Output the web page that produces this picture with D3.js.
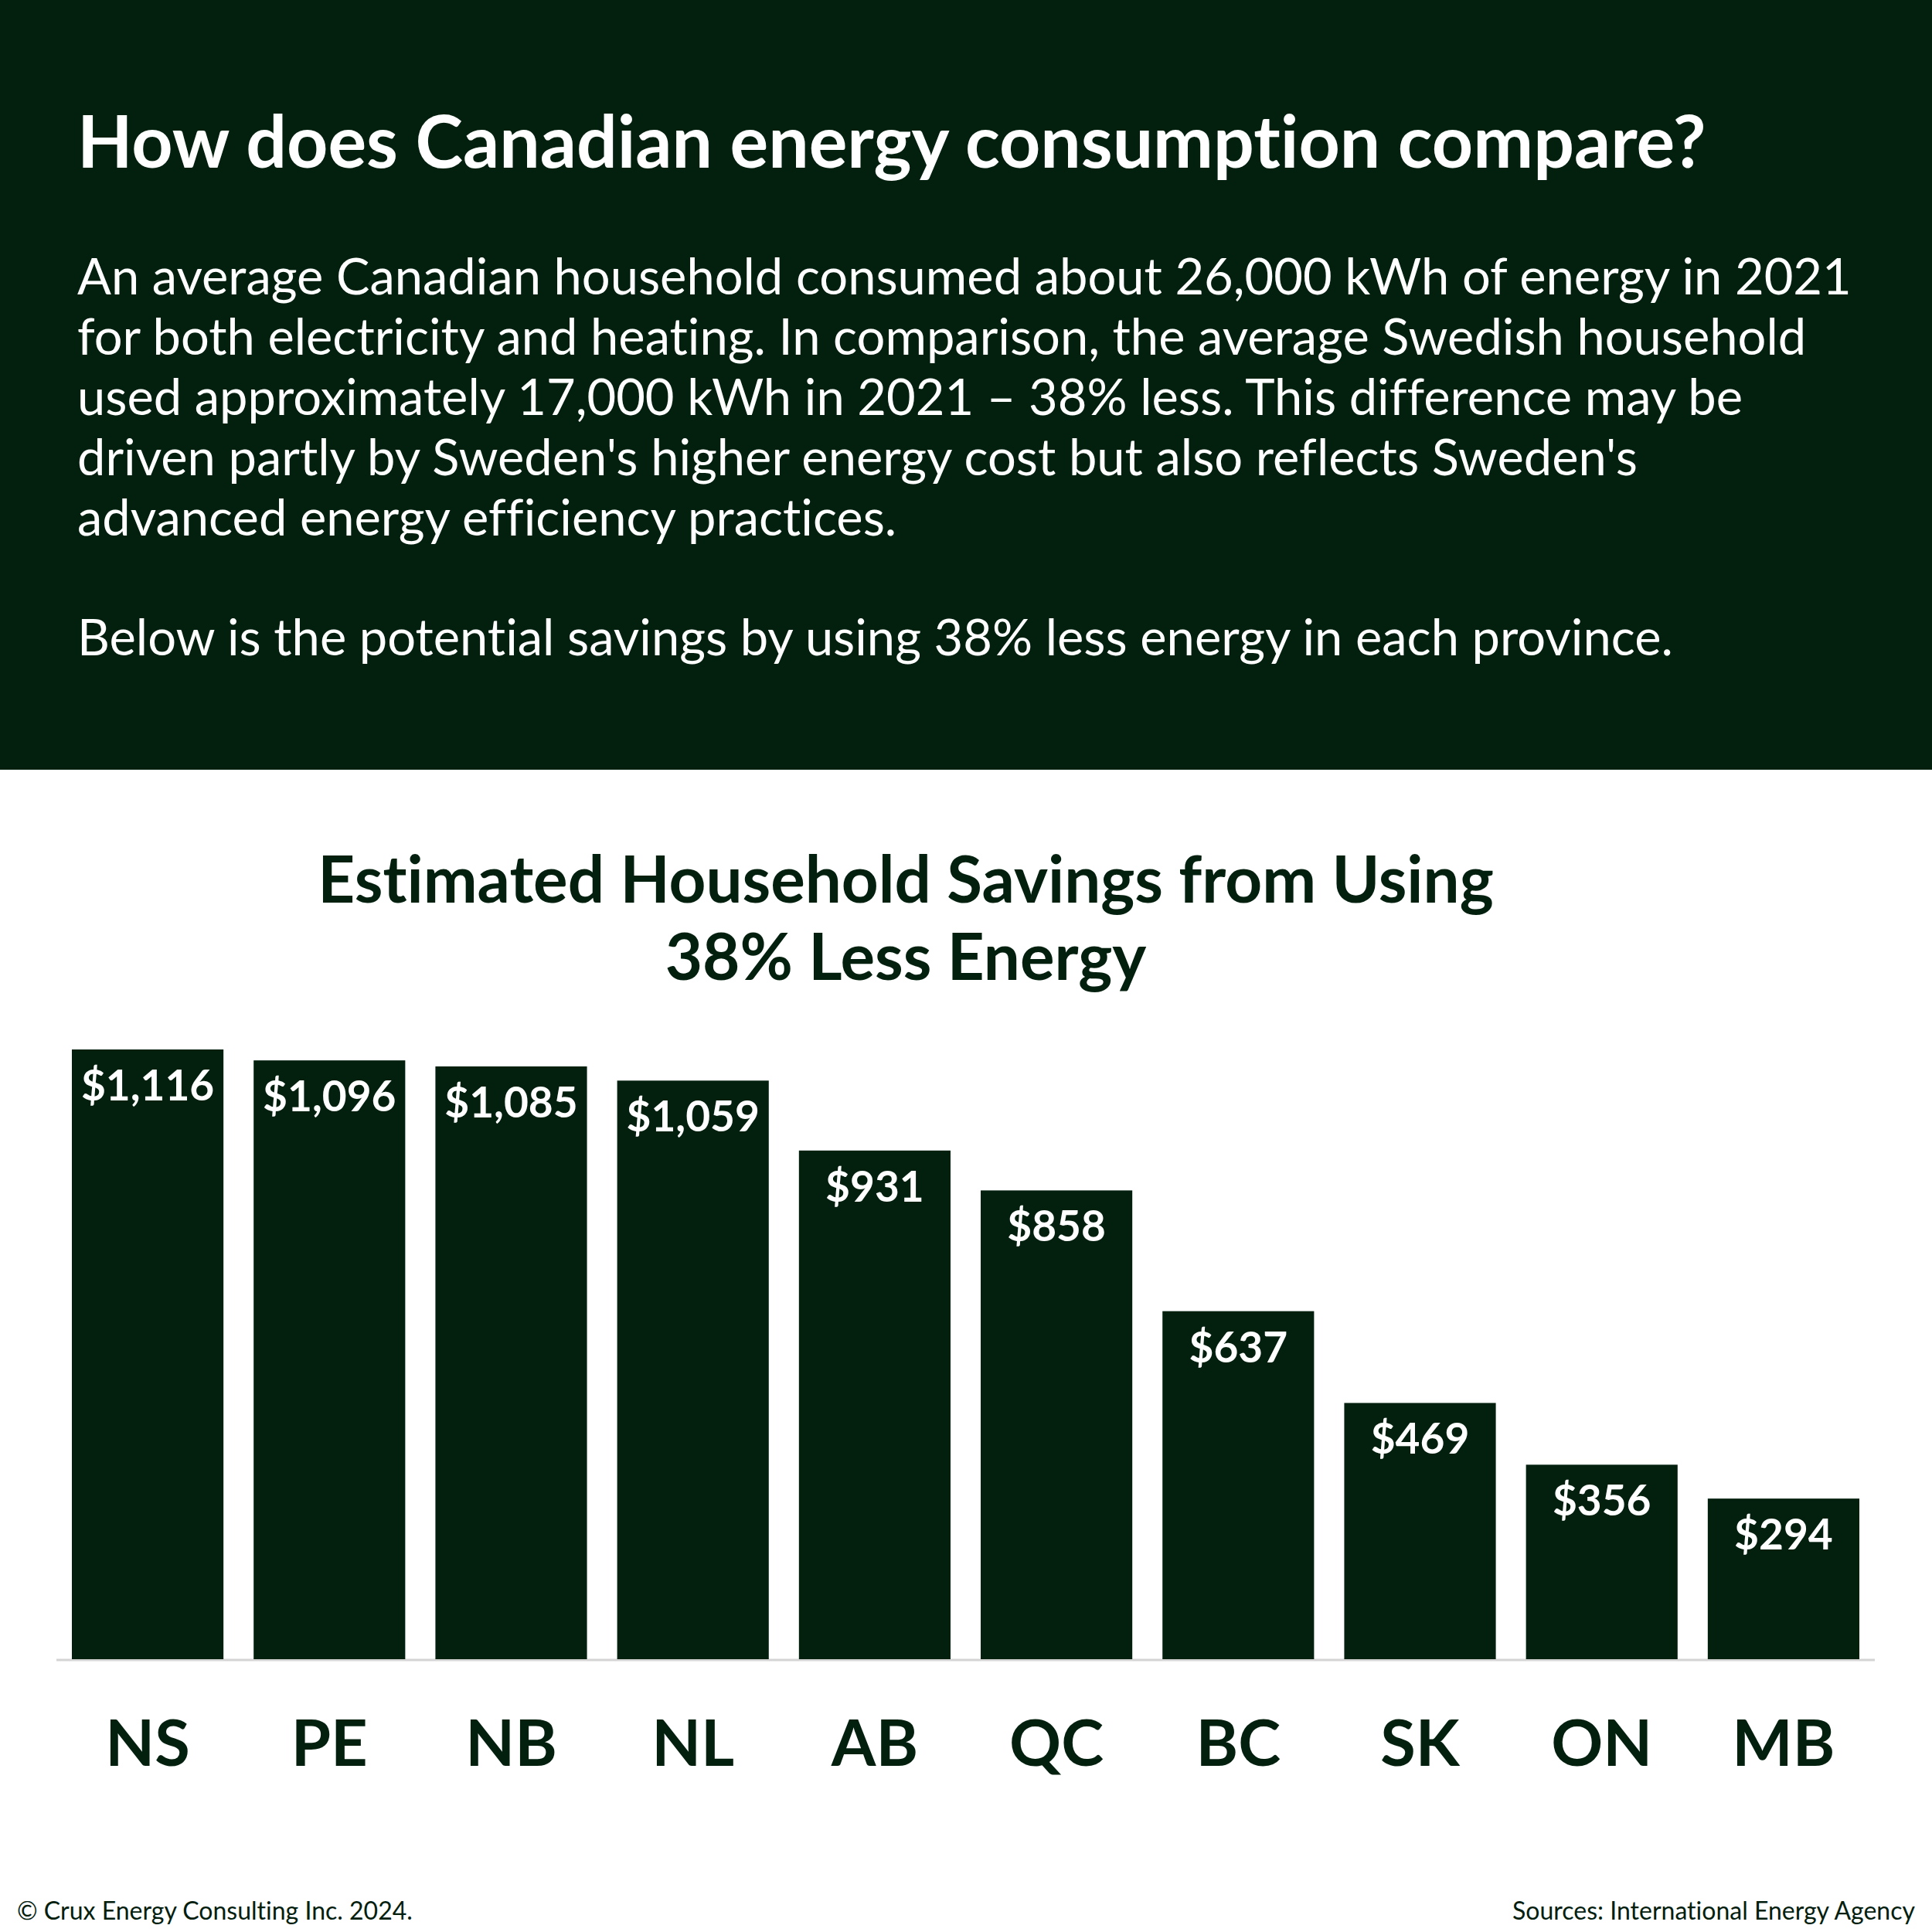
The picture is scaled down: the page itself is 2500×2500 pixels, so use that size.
<!DOCTYPE html>
<html>
<head>
<meta charset="utf-8">
<script src="https://cdn.jsdelivr.net/npm/d3@7"></script>
<style>
  body { margin: 0; background: #ffffff; }
  svg { display: block; font-family: Lato, "Open Sans", sans-serif; font-variant-ligatures: none; }
</style>
</head>
<body>
<svg id="svg1" width="2500" height="2500"></svg>
<script>
// chart data
var provinces = ["NS", "PE", "NB", "NL", "AB", "QC", "BC", "SK", "ON", "MB"];
var savings = [1116, 1096, 1085, 1059, 931, 858, 637, 469, 356, 294];

var headline = "How does Canadian energy consumption compare?";
var introLines = [
    "An average Canadian household consumed about 26,000 kWh of energy in 2021",
    "for both electricity and heating. In comparison, the average Swedish household",
    "used approximately 17,000 kWh in 2021 \u2013 38% less. This difference may be",
    "driven partly by Sweden's higher energy cost but also reflects Sweden's",
    "advanced energy efficiency practices."
];
var introLast = "Below is the potential savings by using 38% less energy in each province.";
var chartTitle = ["Estimated Household Savings from Using", "38% Less Energy"];
var footLeft = "\u00A9 Crux Energy Consulting Inc. 2024.";
var footRight = "Sources: International Energy Agency";

var dark = "#03200f";

var svg = d3.select('#svg1');

// header band
svg.append('rect')
    .attr('x', 0).attr('y', 0)
    .attr('width', 2500).attr('height', 996)
    .attr('fill', dark);

svg.append('text')
    .attr('x', 100).attr('y', 217)
    .attr('fill', '#ffffff')
    .attr('font-size', 93)
    .attr('font-weight', 700)
    .text(headline);

svg.selectAll('text.intro')
    .data(introLines)
    .enter()
    .append('text')
    .attr('class', 'intro')
    .attr('x', 100)
    .attr('y', function(d, i){ return 381 + i * 78; })
    .attr('fill', '#ffffff')
    .attr('font-size', 65)
    .text(function(d){ return d; });

svg.append('text')
    .attr('x', 100).attr('y', 848)
    .attr('fill', '#ffffff')
    .attr('font-size', 65)
    .text(introLast);

// chart title
svg.selectAll('text.ctitle')
    .data(chartTitle)
    .enter()
    .append('text')
    .attr('class', 'ctitle')
    .attr('x', 1172)
    .attr('y', function(d, i){ return 1168 + i * 100; })
    .attr('text-anchor', 'middle')
    .attr('fill', dark)
    .attr('font-size', 83.5)
    .attr('font-weight', 700)
    .text(function(d){ return d; });

// scales
var x = d3.scaleBand()
    .domain(provinces)
    .range([93, 2406])
    .paddingInner(0.166)
    .paddingOuter(0);

var y = d3.scaleLinear()
    .domain([0, 1116])
    .range([2147, 1358]);

var data = provinces.map(function(p, i){ return {name: p, value: savings[i]}; });

// baseline
svg.append('line')
    .attr('x1', 73).attr('x2', 2426)
    .attr('y1', y(0) + 1).attr('y2', y(0) + 1)
    .attr('stroke', '#d4d4d4')
    .attr('stroke-width', 3);

svg.selectAll('rect.bar')
    .data(data)
    .enter()
    .append('rect')
    .attr('class', 'bar')
    .attr('x', function(d){ return x(d.name); })
    .attr('y', function(d){ return y(d.value); })
    .attr('width', x.bandwidth())
    .attr('height', function(d){ return y(0) - y(d.value); })
    .attr('fill', dark);

svg.selectAll('text.val')
    .data(data)
    .enter()
    .append('text')
    .attr('class', 'val')
    .attr('x', function(d){ return x(d.name) + x.bandwidth() / 2; })
    .attr('y', function(d){ return y(d.value) + 66; })
    .attr('text-anchor', 'middle')
    .attr('fill', '#ffffff')
    .attr('font-size', 55)
    .attr('font-weight', 700)
    .text(function(d){ return '$' + d3.format(',')(d.value); });

// category axis
var xAxis = svg.append('g')
    .attr('transform', 'translate(0,' + y(0) + ')')
    .call(d3.axisBottom(x).tickSize(0).tickPadding(0));
xAxis.select('.domain').remove();
xAxis.selectAll('text')
    .attr('dy', null)
    .attr('y', 138)
    .attr('fill', dark)
    .attr('font-size', 83)
    .attr('font-weight', 700)
    .attr('font-family', 'Lato, sans-serif');

// footer
svg.append('text')
    .attr('x', 22).attr('y', 2484)
    .attr('fill', dark)
    .attr('font-size', 32)
    .text(footLeft);

svg.append('text')
    .attr('x', 2478).attr('y', 2484)
    .attr('text-anchor', 'end')
    .attr('fill', dark)
    .attr('font-size', 32)
    .text(footRight);
</script>
</body>
</html>
